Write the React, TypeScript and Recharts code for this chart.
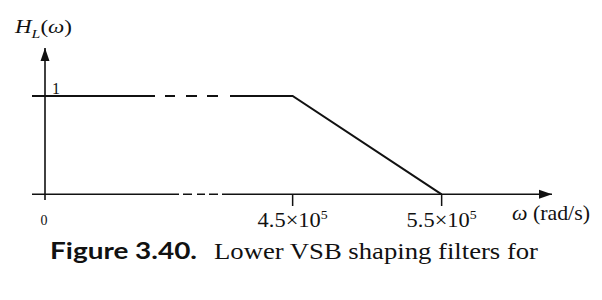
import { LineChart, Line, XAxis, YAxis, ReferenceLine, ReferenceDot } from 'recharts';

// filter response H_L(w): corner points
const omega = [0, 4.5e5, 5.5e5];
const gain = [1, 1, 0];

// x-axis ticks
const tickOmega = [0, 4.5e5, 5.5e5];
const tickMain = ['0', '4.5×10', '5.5×10'];
const tickExp = ['', '5', '5'];

// the axis is broken between these two frequencies
const BREAK_START = 1.2e5;
const BREAK_END = 4.038e5;
const pos = (w: number) => (w < BREAK_START ? w : w - (BREAK_END - BREAK_START));

const X_MIN = -8725;
const X_MAX = 340268;
const Y_MIN = -0.058;
const Y_MAX = 1.488;

const data = omega.map((w, i) => ({ x: pos(w), h: gain[i] }));
const tickPos = tickOmega.map(pos);

const INK = '#111';
const serif = { fontFamily: "'Liberation Serif', 'Times New Roman', Times, serif" };
const sans = { fontFamily: "Lato, 'Noto Sans', sans-serif" };

function OmegaTick(props: any) {
  const { x, y, payload } = props;
  const i = tickPos.indexOf(payload.value);
  const axisY = y - 6;
  if (i === 0) {
    return (
      <text x={x - 1} y={axisY + 25} textAnchor="middle" fontSize={14} style={serif} fill={INK}>
        {tickMain[i]}
      </text>
    );
  }
  return (
    <g>
      <line x1={x} x2={x} y1={axisY - 6} y2={axisY + 6} stroke={INK} strokeWidth={1.5} />
      <text x={x} y={axisY + 27} textAnchor="middle" fontSize={21} style={serif} fill={INK} textLength={70} lengthAdjust="spacingAndGlyphs">
        {tickMain[i]}
        <tspan dy={-8} fontSize={13}>{tickExp[i]}</tspan>
      </text>
    </g>
  );
}

const upArrow = (p: any) => (
  <polygon points={`${p.cx},${p.cy} ${p.cx - 4.5},${p.cy + 13} ${p.cx + 4.5},${p.cy + 13}`} fill={INK} />
);
const rightArrow = (p: any) => (
  <polygon points={`${p.cx},${p.cy} ${p.cx - 13},${p.cy - 4.5} ${p.cx - 13},${p.cy + 4.5}`} fill={INK} />
);

export default function App() {
  return (
    <div style={{ position: 'absolute', left: 0, top: 0, width: 602, height: 300, background: '#fff' }}>
      <LineChart width={602} height={300} data={data} margin={{ top: 48, right: 50, bottom: 70, left: 32 }}>
        <XAxis
          type="number"
          dataKey="x"
          domain={[X_MIN, X_MAX]}
          allowDataOverflow
          ticks={tickPos}
          tick={<OmegaTick />}
          tickSize={6}
          tickMargin={0}
          axisLine={false}
          tickLine={false}
          height={30}
          interval={0}
        />
        <YAxis hide type="number" domain={[Y_MIN, Y_MAX]} allowDataOverflow />
        {/* x axis with its break */}
        <ReferenceLine
          segment={[{ x: X_MIN, y: 0 }, { x: X_MAX, y: 0 }]}
          stroke={INK}
          strokeWidth={1.6}
          strokeDasharray="147 4 9 5 8 4 9 4 1000"
        />
        {/* y axis */}
        <ReferenceLine segment={[{ x: 0, y: Y_MIN }, { x: 0, y: Y_MAX }]} stroke={INK} strokeWidth={1.6} />
        {/* level line continues a little left of the origin */}
        <ReferenceLine segment={[{ x: X_MIN, y: 1 }, { x: 0, y: 1 }]} stroke={INK} strokeWidth={2} />
        <ReferenceDot x={0} y={Y_MAX} r={0} shape={upArrow} />
        <ReferenceDot x={X_MAX} y={0} r={0} shape={rightArrow} />
        <Line
          type="linear"
          dataKey="h"
          stroke={INK}
          strokeWidth={2}
          strokeDasharray="110 10 10 11 11 10 11 12 1000"
          dot={false}
          activeDot={false}
          isAnimationActive={false}
        />
      </LineChart>
      <svg width={602} height={300} style={{ position: 'absolute', left: 0, top: 0, pointerEvents: 'none' }}>
        <text x={15} y={33} style={serif} fontSize={19} fill={INK} textLength={57} lengthAdjust="spacingAndGlyphs">
          <tspan fontStyle="italic">H</tspan>
          <tspan fontStyle="italic" fontSize={13} dy={5}>L</tspan>
          <tspan dy={-5}>(</tspan>
          <tspan fontStyle="italic">ω</tspan>
          <tspan>)</tspan>
        </text>
        <text x={52} y={94} style={serif} fontSize={16} fill={INK}>1</text>
        <text x={512} y={220} style={serif} fontSize={21} fill={INK} textLength={78} lengthAdjust="spacingAndGlyphs">
          <tspan fontStyle="italic">ω</tspan>
          <tspan> (rad/s)</tspan>
        </text>
        <text x={50} y={259} style={sans} fontWeight={700} fontSize={22} fill={INK} textLength={147} lengthAdjust="spacingAndGlyphs">
          Figure 3.40.
        </text>
        <text x={214} y={259} style={serif} fontSize={24} fill={INK} textLength={324} lengthAdjust="spacingAndGlyphs">
          Lower VSB shaping filters for
        </text>
      </svg>
    </div>
  );
}
